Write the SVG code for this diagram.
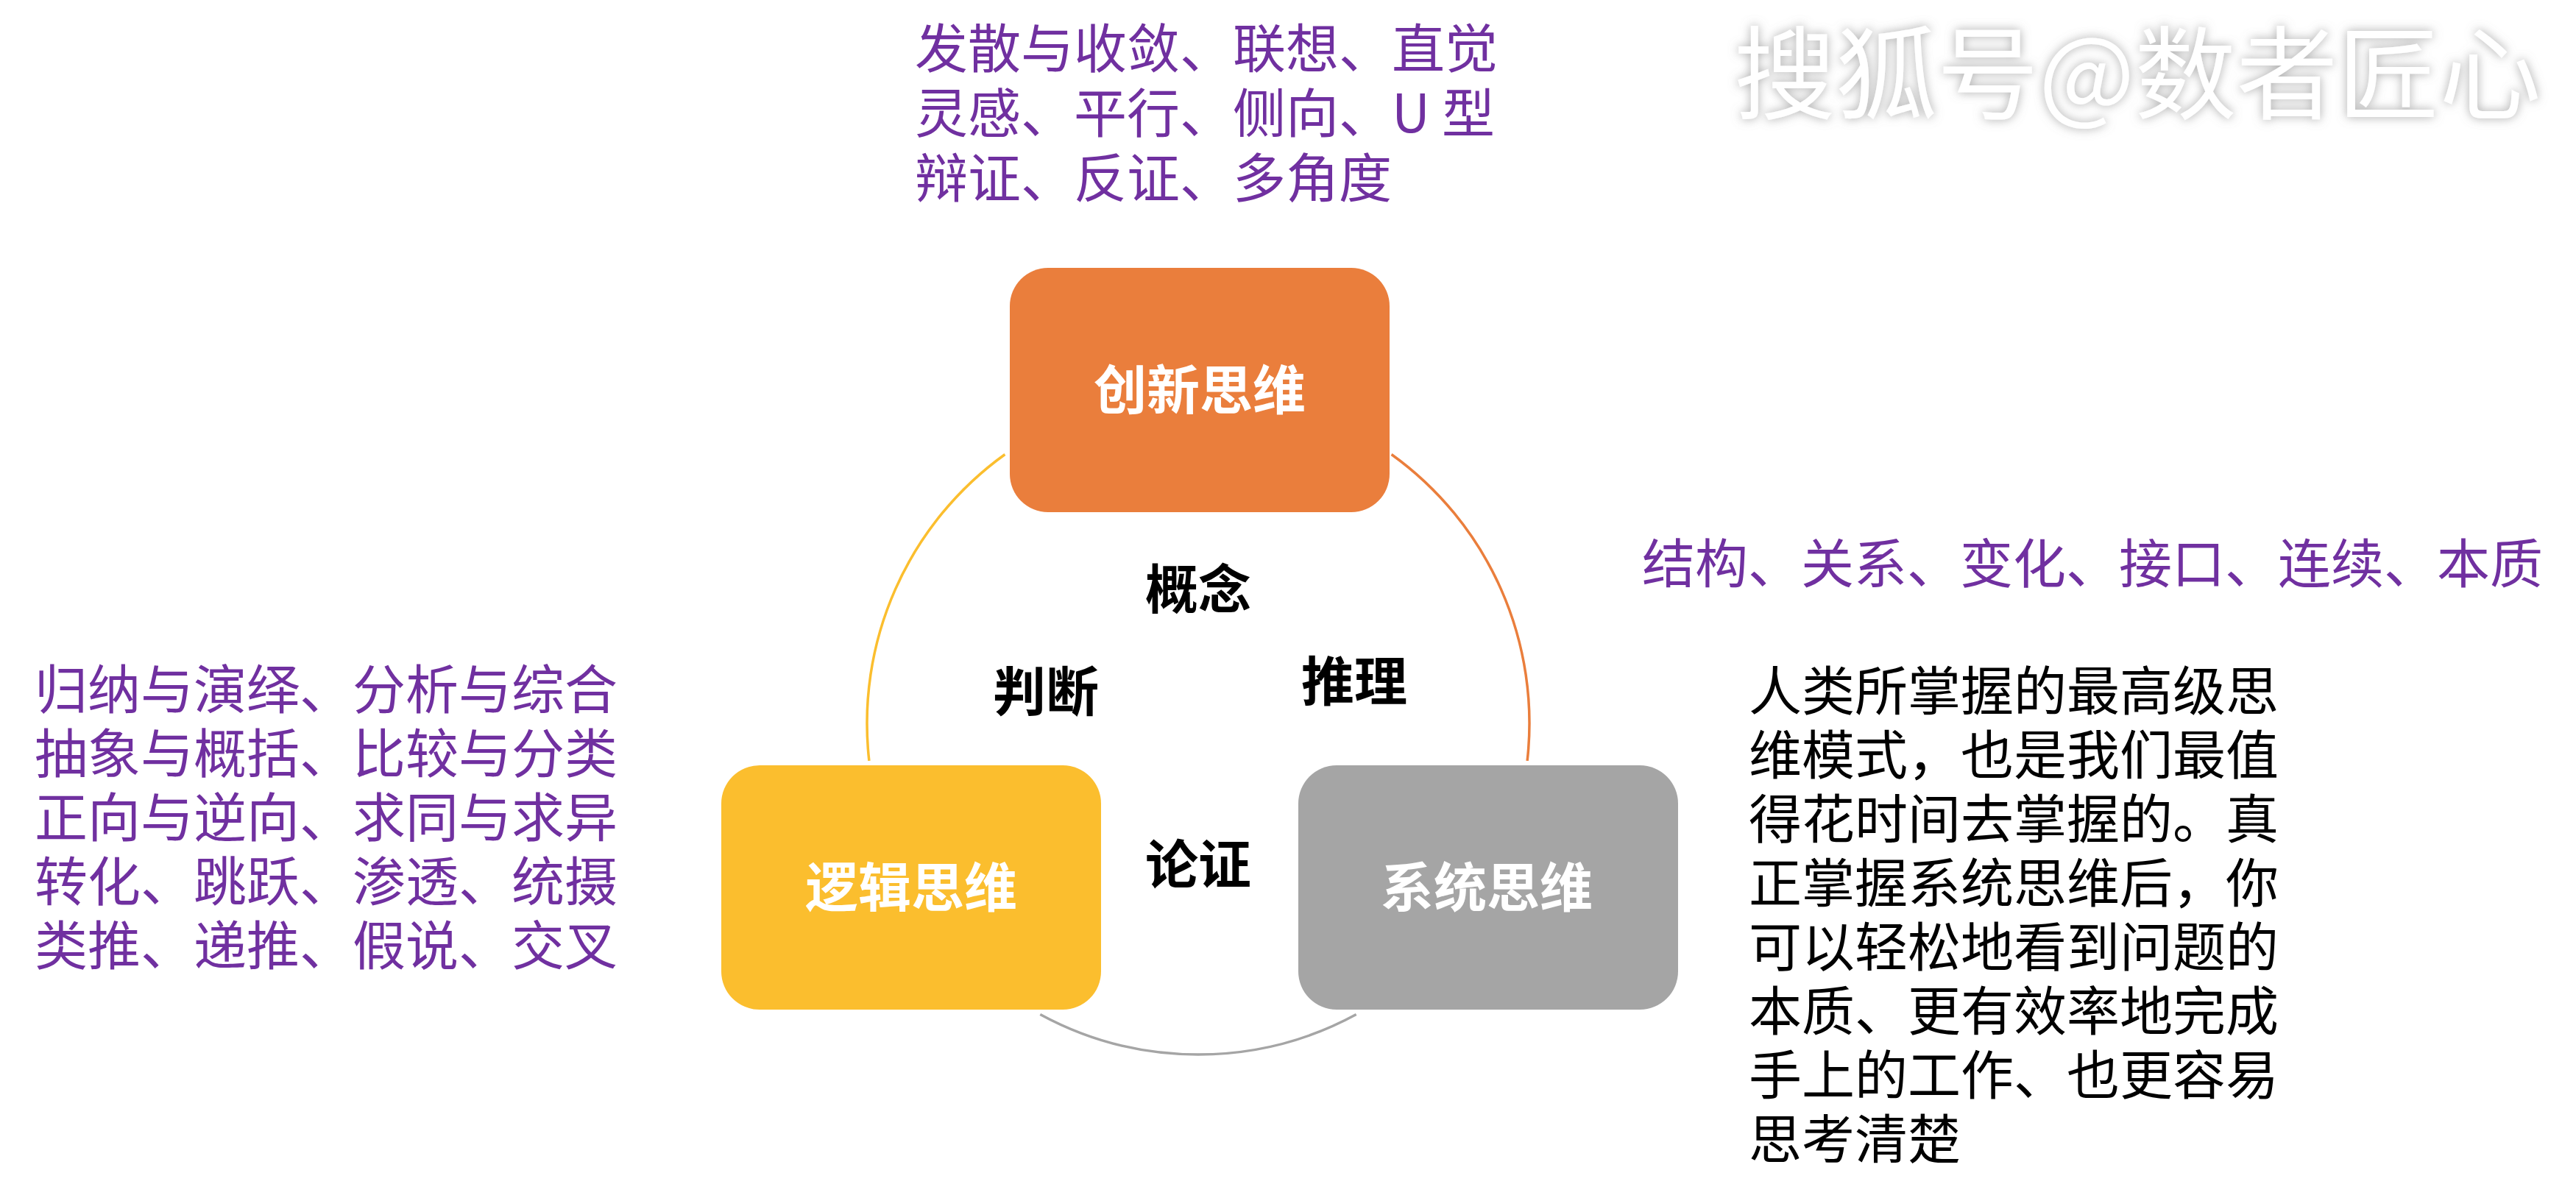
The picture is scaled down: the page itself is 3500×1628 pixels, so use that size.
<svg xmlns="http://www.w3.org/2000/svg" width="3500" height="1628" viewBox="0 0 3500 1628">
<style>
text{font-family:"Noto Sans CJK SC","Noto Sans",sans-serif;font-size:72px}
.purple{fill:#7030A0}
.black{fill:#000}
.boxlabel{fill:#fff;font-weight:bold;text-anchor:middle}
.center{fill:#000;font-weight:bold;text-anchor:middle}
.arc{fill:none;stroke-width:3.5}
.wm{fill:#fff;font-size:138px}
</style>
<defs>
<filter id="glow" x="-10%" y="-30%" width="120%" height="160%">
<feGaussianBlur in="SourceAlpha" stdDeviation="7" result="b"/>
<feFlood flood-color="#8a8a8a" flood-opacity="0.75"/>
<feComposite in2="b" operator="in" result="s"/>
<feMerge><feMergeNode in="s"/><feMergeNode in="SourceGraphic"/></feMerge>
</filter>
</defs>
<rect width="3500" height="1628" fill="#fff"/>
<g id="connectors">
<path class="arc" stroke="#FBBE2E" d="M1365.4,617.5 A450,450 0 0 0 1180.9,1033.9"/>
<path class="arc" stroke="#EA7E3C" d="M1890.6,617.5 A450,450 0 0 1 2075.1,1033.9"/>
<path class="arc" stroke="#A5A5A5" d="M1413.3,1378.5 A450,450 0 0 0 1842.7,1378.5"/>
</g>
<g id="node-innovation">
<rect x="1372" y="364" width="516" height="332" rx="52" fill="#EA7E3C"/>
<text class="boxlabel" x="1630" y="556">创新思维</text>
</g>
<g id="node-logic">
<rect x="980" y="1040" width="516" height="332" rx="52" fill="#FBBE2E"/>
<text class="boxlabel" x="1238" y="1232">逻辑思维</text>
</g>
<g id="node-system">
<rect x="1764" y="1040" width="516" height="332" rx="52" fill="#A5A5A5"/>
<text class="boxlabel" x="2020" y="1232">系统思维</text>
</g>
<g id="center-labels">
<text class="center" x="1628" y="827">概念</text>
<text class="center" x="1421" y="966">判断</text>
<text class="center" x="1840" y="952">推理</text>
<text class="center" x="1628" y="1201">论证</text>
</g>
<g id="innovation-notes">
<text class="purple" x="1243" y="92">发散与收敛、联想、直觉</text>
<text class="purple" x="1243" y="180">灵感、平行、侧向、U 型</text>
<text class="purple" x="1243" y="268">辩证、反证、多角度</text>
</g>
<g id="logic-notes">
<text class="purple" x="47" y="963">归纳与演绎、分析与综合</text>
<text class="purple" x="47" y="1050">抽象与概括、比较与分类</text>
<text class="purple" x="47" y="1137">正向与逆向、求同与求异</text>
<text class="purple" x="47" y="1224">转化、跳跃、渗透、统摄</text>
<text class="purple" x="47" y="1311">类推、递推、假说、交叉</text>
</g>
<g id="system-notes">
<text class="purple" x="2231" y="792">结构、关系、变化、接口、连续、本质</text>
</g>
<g id="system-description">
<text class="black" x="2376" y="965">人类所掌握的最高级思</text>
<text class="black" x="2376" y="1052">维模式，也是我们最值</text>
<text class="black" x="2376" y="1139">得花时间去掌握的。真</text>
<text class="black" x="2376" y="1226">正掌握系统思维后，你</text>
<text class="black" x="2376" y="1313">可以轻松地看到问题的</text>
<text class="black" x="2376" y="1400">本质、更有效率地完成</text>
<text class="black" x="2376" y="1487">手上的工作、也更容易</text>
<text class="black" x="2376" y="1574">思考清楚</text>
</g>
<g id="watermark" filter="url(#glow)">
<text class="wm" x="2356" y="151">搜狐号@数者匠心</text>
</g>
</svg>
